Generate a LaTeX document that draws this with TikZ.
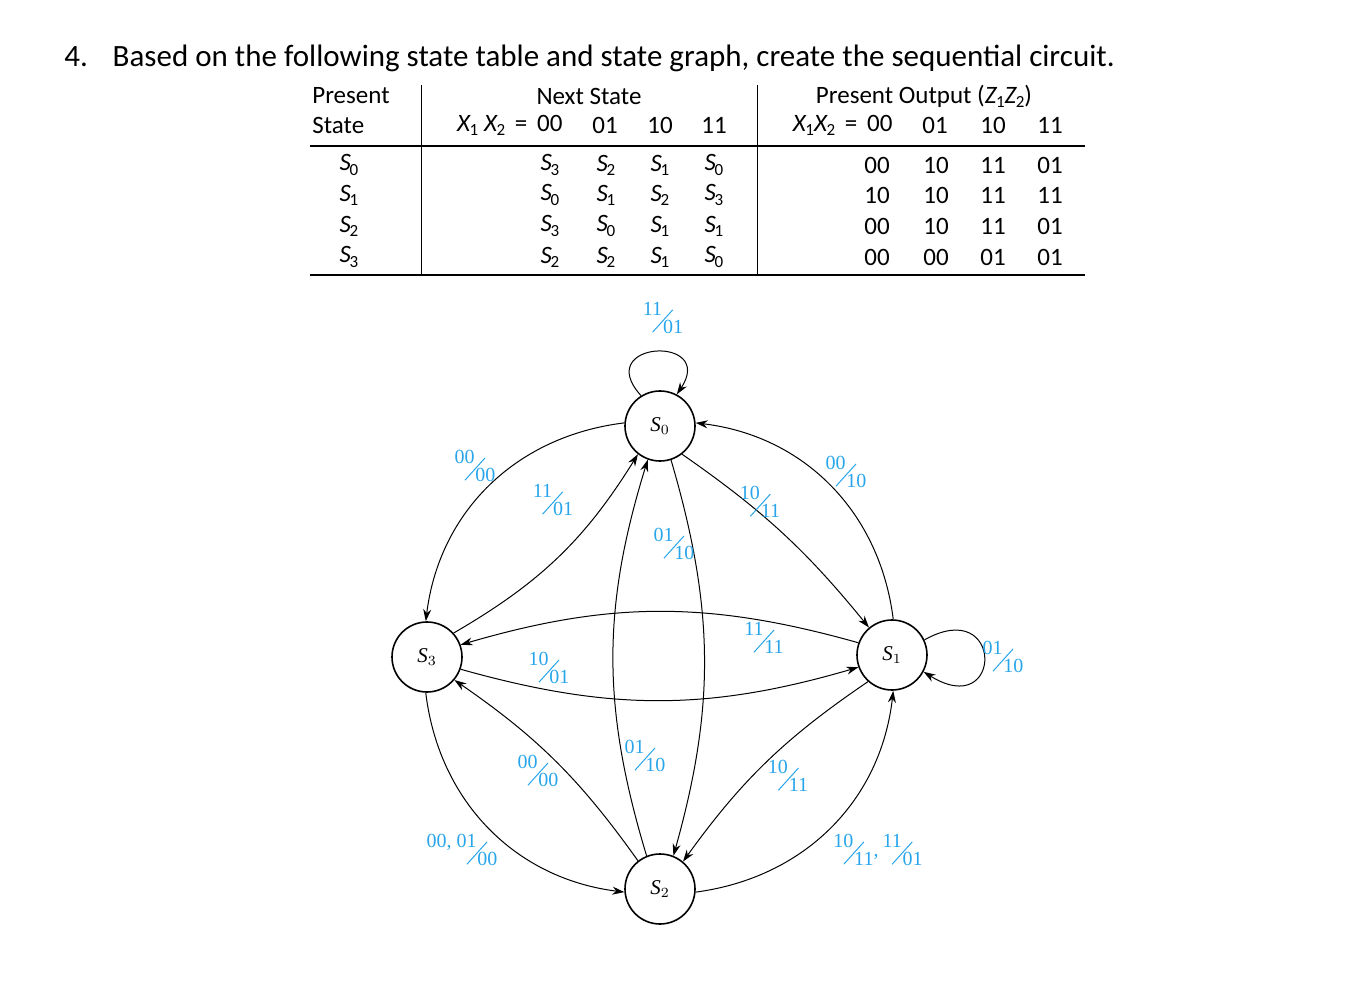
\documentclass[tikz,border=0pt]{standalone}
\usepackage{fontspec}
\setmainfont{Liberation Serif}
\newfontfamily\calfnt{Carlito}
\usetikzlibrary{arrows.meta}
\definecolor{lbl}{RGB}{40,165,235}
\newcommand\fr[2]{\textcolor{lbl}{\raisebox{.45em}{#1}\kern-.5em\raisebox{-.4em}{\rotatebox{48}{\rule{1.5em}{.5pt}}}\kern-.5em\raisebox{-.45em}{#2}}}
\newcommand\Sv[1]{\textit{S}\kern-.05em\raisebox{-.35ex}{\fontsize{8.5}{9}\selectfont #1}}
\newcommand\Xv[1]{\textit{X}\kern-.05em\raisebox{-.35ex}{\fontsize{8.5}{9}\selectfont #1}}
\newcommand\Zv[1]{\textit{Z}\kern-.05em\raisebox{-.35ex}{\fontsize{8.5}{9}\selectfont #1}}
\begin{document}
\begin{tikzpicture}[x=0.5pt,y=-0.5pt,
  st/.style={circle,draw,thick,minimum size=35pt,inner sep=0pt,font=\fontsize{10.5}{12}\selectfont\itshape},
  ed/.style={-{Stealth[length=6pt,width=4pt]},line width=0.5pt},
  lb/.style={font=\fontsize{10}{11}\selectfont,inner sep=1pt},
  tx/.style={font=\calfnt\fontsize{12.5}{14}\selectfont,inner sep=0pt}]
\useasboundingbox (0,0) rectangle (1361,1000);
\node[font=\calfnt\fontsize{15.5}{18}\selectfont,anchor=west,inner sep=0pt] (title) at (64,58) {4.\hspace{0.8em}Based on the following state table and state graph, create the sequential circuit.};
% table
\draw[line width=0.8pt] (310,146) -- (1085,146);
\draw[line width=0.8pt] (310,275) -- (1085,275);
\draw (421,85) -- (421,275);
\draw (757,85) -- (757,275);
\node[tx,anchor=west] (h1) at (312,96) {Present};
\node[tx,anchor=west] (h2) at (312,125) {State};
\node[tx] (h3) at (589,96) {Next State};
\node[tx] (h4) at (924,96) {Present Output (\Zv1\Zv2)};
\node[tx,anchor=east] (h5) at (563,125) {\Xv1\ \Xv2 \,=\, 00};
\node[tx,anchor=east] (h6) at (893,125) {\Xv1\Xv2 \,=\, 00};
\foreach \c/\x in {01/605,10/660,11/714}{\node[tx] at (\x,125) {\c};}
\foreach \c/\x in {01/935,10/993,11/1050}{\node[tx] at (\x,125) {\c};}
\foreach \r/\y/\a/\b/\cc/\d/\e/\f/\g/\h in {0/165/3/2/1/0/00/10/11/01,1/195/0/1/2/3/10/10/11/11,2/226/3/0/1/1/00/10/11/01,3/257/2/2/1/0/00/00/01/01}{
  \node[tx] at (349,\y) {\Sv\r};
  \node[tx] at (550,\y) {\Sv\a};
  \node[tx] at (606,\y) {\Sv\b};
  \node[tx] at (660,\y) {\Sv\cc};
  \node[tx] at (714,\y) {\Sv\d};
  \node[tx] at (877,\y) {\e};
  \node[tx] at (936,\y) {\f};
  \node[tx] at (993,\y) {\g};
  \node[tx] at (1050,\y) {\h};
}
% graph
\node[st] (s0) at (660,426) {S$_0$};
\node[st] (s1) at (892,655) {S$_1$};
\node[st] (s3) at (427,657) {S$_3$};
\node[st] (s2) at (660,889) {S$_2$};
\draw[ed] (s0.175) to[bend right=38] (s3.92);
\draw[ed] (s3.42) to[bend right=14] (s0.232);
\draw[ed] (s0.-52) to[bend left=8] (s1.130);
\draw[ed] (s1.88) to[bend right=38] (s0.5);
\draw[ed] (s0.-72) to[bend left=16] (s2.68);
\draw[ed] (s2.112) to[bend left=17] (s0.250);
\draw[ed] (s1.160) to[bend right=16] (s3.20);
\draw[ed] (s3.-20) to[bend right=16] (s1.-160);
\draw[ed] (s3.-92) to[bend right=38] (s2.185);
\draw[ed] (s2.128) to[bend right=10] (s3.-40);
\draw[ed] (s1.-132) to[bend right=10] (s2.50);
\draw[ed] (s2.-5) to[bend right=38] (s1.-88);
\draw[ed] (s0.122) .. controls +(-50,-55) and +(40,-60) .. (s0.62);
\draw[ed] (s1.25) .. controls +(80,-45) and +(80,50) .. (s1.-28);
\node[lb] (l1) at (663,318) {\fr{11}{01}};
\node[lb] (l2) at (475,466) {\fr{00}{00}};
\node[lb] (l3) at (553,500) {\fr{11}{01}};
\node[lb] (l4) at (674,544) {\fr{01}{10}};
\node[lb] (l5) at (760,502) {\fr{10}{11}};
\node[lb] (l6) at (846,472) {\fr{00}{10}};
\node[lb] (l7) at (764,638) {\fr{11}{11}};
\node[lb] (l8) at (549,668) {\fr{10}{01}};
\node[lb] (l9) at (1003,657) {\fr{01}{10}};
\node[lb] (l10) at (538,771) {\fr{00}{00}};
\node[lb] (l11) at (645,756) {\fr{01}{10}};
\node[lb] (l12) at (788,776) {\fr{10}{11}};
\node[lb] (l13) at (462,850) {\fr{00, 01}{00}};
\node[lb] (l14) at (878,850) {\fr{10}{11}\textcolor{lbl}{,}\kern.2em\fr{11}{01}};
\end{tikzpicture}
\end{document}
